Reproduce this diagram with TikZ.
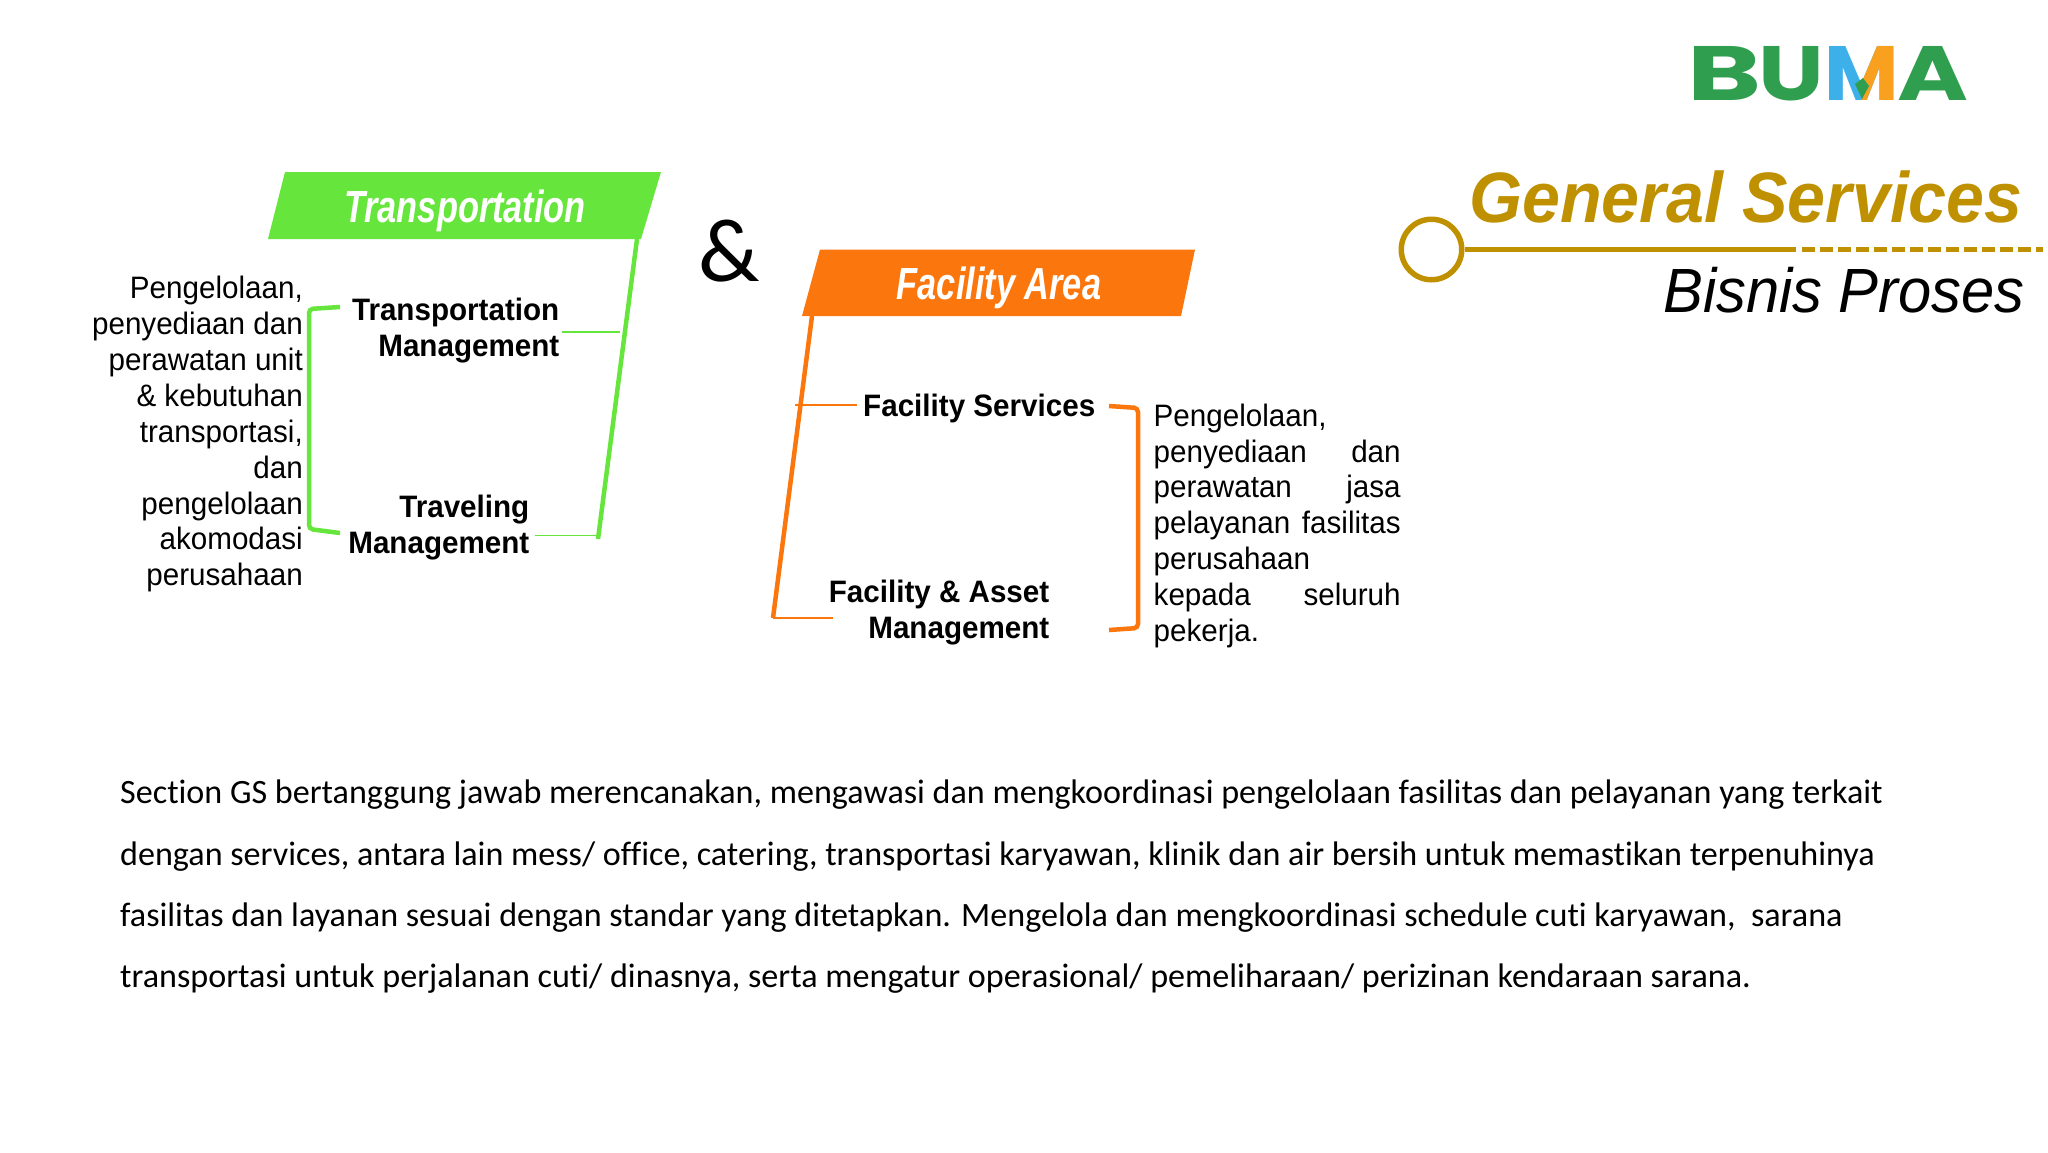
\documentclass[tikz,border=0pt]{standalone}
\usepackage{fontspec}
\setmainfont[FakeStretch=0.955]{Liberation Sans}
\newfontfamily\bodyfont[Ligatures=NoCommon]{Carlito}
\newfontfamily\logofont{Poppins}
\definecolor{grn}{HTML}{66E53C}
\definecolor{org}{HTML}{FB760D}
\definecolor{gold}{HTML}{BF9000}
\definecolor{logog}{HTML}{2F9E4F}
\definecolor{logob}{HTML}{3DB0EA}
\definecolor{logoo}{HTML}{F9A11F}
\newcommand{\fsz}[1]{\fontsize{#1}{#1}\selectfont}
\tikzset{
 x=1pt,y=-1pt,
 banner/.style={inner sep=0,text=white,font=\fsz{45}\bfseries\itshape},
 lab/.style={inner sep=0,font=\fsz{31}\bfseries,align=right,text=black},
 para/.style={inner sep=0,font=\fsz{31},align=right},
 bodyl/.style={inner sep=0,anchor=west,font=\bodyfont\fsz{34.1}},
 thinG/.style={draw=grn,line width=1.8},
 thinO/.style={draw=org,line width=1.8},
 stemG/.style={draw=grn,line width=4.5},
 stemO/.style={draw=org,line width=4.5},
 logo/.style={inner sep=0,anchor=base,font=\logofont\fsz{77}\bfseries},
}
\newcommand{\jl}[1]{\hbox to 247pt{#1}}
\begin{document}
\begin{tikzpicture}
\useasboundingbox (0,0) rectangle (2048,1152);
% logo
\node[logo,text=logog] (lb) at (1725,100) {\scalebox{1.46}[1]{B}};
\node[logo,text=logog] (lu) at (1791,100) {\scalebox{1.21}[1]{U}};
\node[logo,text=logob] (lm) at (1862,100) {\scalebox{1.05}[1]{M}};
\begin{scope}
\clip (1862,30) -- (1920,30) -- (1920,110) -- (1862,110) -- cycle;
\node[logo,text=logoo] (lm2) at (1862,100) {\scalebox{1.05}[1]{M}};
\end{scope}
\fill[logog] (1855,84) -- (1863,78) -- (1869,86) -- (1862,99) -- cycle;
\node[logo,text=logog] (la) at (1933,100) {\scalebox{1.25}[1]{A}};
% title
\node[inner sep=0,anchor=base east,text=gold,font=\fsz{71.4}\bfseries\itshape] (gs) at (2023,222) {General Services};
\node[inner sep=0,anchor=base east,font=\fsz{62.5}\itshape] (bp) at (2025,312) {Bisnis Proses};
\node[circle,draw=gold,line width=5.5,minimum size=60.5,inner sep=0] (circ) at (1431.5,249.5) {};
\coordinate (mid) at (1796,249.5);
\coordinate (dashs) at (1802,249.5);
\coordinate (endr) at (2043,249.5);
\draw[gold,line width=5.5] (circ.east) -- (mid);
\draw[gold,line width=5.5,dash pattern=on 13 off 5] (dashs) -- (endr);
% ampersand
\node[inner sep=0,font=\bodyfont\fsz{90}] (amp) at (729.5,251.5) {\&};
% green banner
\fill[grn] (285,172) -- (661,172) -- (641,239) -- (268,239) -- cycle;
\node[banner] (tr) at (465,211) {\scalebox{0.8}[1]{Transportation}};
\coordinate (g1) at (637,239); \coordinate (g2) at (598,539);
\draw[stemG] (g1) -- (g2);
\node[lab,anchor=north east] (tm) at (559.5,298) {Transportation\\[4.9pt]Management};
\node[lab,anchor=north east] (tv) at (529.5,495) {Traveling\\[4.9pt]Management};
\coordinate (tmj) at (620,332); \coordinate (tvj) at (598,535.5);
\coordinate (tms) at (562,332); \coordinate (tvs) at (535,535.5);
\draw[thinG] (tms) -- (tmj);
\draw[thinG] (tvs) -- (tvj);
\coordinate (b1) at (340,307); \coordinate (b2) at (309,309); \coordinate (b3) at (309,529); \coordinate (b4) at (340,533);
\draw[stemG,rounded corners=4] (b1) -- (b2) -- (b3) -- (b4);
\node[para,anchor=north east] (lp) at (303,276) {Pengelolaan,\\[4.9pt]penyediaan dan\\[4.9pt]perawatan unit\\[4.9pt]\& kebutuhan\\[4.9pt]transportasi,\\[4.9pt]dan\\[4.9pt]pengelolaan\\[4.9pt]akomodasi\\[4.9pt]perusahaan};
% orange banner
\fill[org] (820,249.5) -- (1195,249.5) -- (1181,316) -- (802,316) -- cycle;
\node[banner] (fa) at (999,288) {\scalebox{0.8}[1]{Facility Area}};
\coordinate (o1) at (812,316); \coordinate (o2) at (773,618);
\draw[stemO] (o1) -- (o2);
\node[lab,anchor=base west] (fs) at (863,416) {Facility Services};
\node[lab,anchor=north east] (fm) at (1049.5,579.5) {Facility \& Asset\\[4.9pt]Management};
\coordinate (fsj) at (795,405); \coordinate (fss) at (857,405);
\coordinate (fmj) at (773,618); \coordinate (fms) at (833,618);
\draw[thinO] (fsj) -- (fss);
\draw[thinO] (fmj) -- (fms);
\coordinate (r1) at (1109,406); \coordinate (r2) at (1138,408); \coordinate (r3) at (1138,628); \coordinate (r4) at (1109,630);
\draw[stemO,rounded corners=4] (r1) -- (r2) -- (r3) -- (r4);
\node[inner sep=0,anchor=north west,font=\fsz{31},align=left] (rp) at (1153.5,403.5) {\jl{Pengelolaan,\hfill}\\[4.9pt]\jl{penyediaan\hfill dan}\\[4.9pt]\jl{perawatan\hfill jasa}\\[4.9pt]\jl{pelayanan\hfill fasilitas}\\[4.9pt]\jl{perusahaan\hfill}\\[4.9pt]\jl{kepada\hfill seluruh}\\[4.9pt]\jl{pekerja.\hfill}};
% body
\node[bodyl] (l1) at (120,795) {Section GS bertanggung jawab merencanakan, mengawasi dan mengkoordinasi pengelolaan fasilitas dan pelayanan yang terkait};
\node[bodyl] (l2) at (120,856.5) {dengan services, antara lain mess/ office, catering, transportasi karyawan, klinik dan air bersih untuk memastikan terpenuhinya};
\node[bodyl] (l3) at (120,917.5) {fasilitas dan layanan sesuai dengan standar yang ditetapkan. Mengelola dan mengkoordinasi schedule cuti karyawan,~ sarana};
\node[bodyl] (l4) at (120,979) {transportasi untuk perjalanan cuti/ dinasnya, serta mengatur operasional/ pemeliharaan/ perizinan kendaraan sarana.};
\end{tikzpicture}
\end{document}
